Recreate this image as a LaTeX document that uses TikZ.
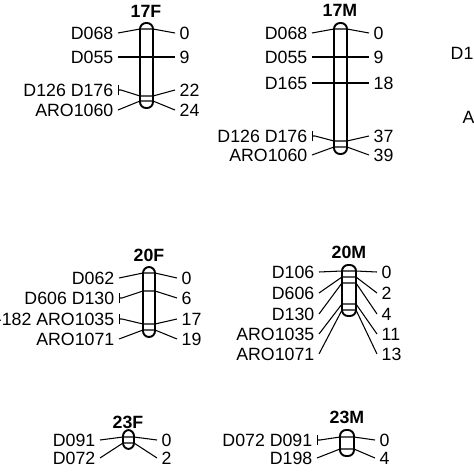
\documentclass[tikz,border=0pt]{standalone}
\usepackage{fontspec}
\setmainfont{Liberation Sans}
\usepackage{tikz}
\usetikzlibrary{arrows.meta}

\begin{document}
\begin{tikzpicture}[
    x=0.02cm, y=-0.02cm,
    font=\fontsize{10.1}{12}\selectfont,
    lbl/.style={anchor=east, inner sep=2.5pt},
    num/.style={anchor=west, inner sep=2.5pt},
    ttl/.style={font=\fontsize{10.1}{12}\selectfont\bfseries, inner sep=0pt},
    chrom/.style={draw, line width=1.1pt, rounded corners=0.12cm},
    link/.style={line width=0.6pt},
    multi/.style={link, {Bar[width=6pt]}-}
]
    \useasboundingbox (0,0) rectangle (474,474);

    % 17F
    \node[ttl] (t17F) at (146,11) {17F};
    \node[lbl] (l17F-1) at (118,33) {D068};
    \node[lbl] (l17F-2) at (118,57) {D055};
    \node[lbl] (l17F-3) at (118,90) {D126 D176};
    \node[lbl] (l17F-4) at (118,110) {ARO1060};
    \node[num] (r17F-1) at (175,33) {0};
    \node[num] (r17F-2) at (175,57) {9};
    \node[num] (r17F-3) at (175,90) {22};
    \node[num] (r17F-4) at (175,110) {24};
    \coordinate (a17F-1) at (140,29);  \coordinate (b17F-1) at (153,29);
    \coordinate (a17F-2) at (140,57);  \coordinate (b17F-2) at (153,57);
    \coordinate (a17F-3) at (140,96);  \coordinate (b17F-3) at (153,96);
    \coordinate (a17F-4) at (140,101); \coordinate (b17F-4) at (153,101);
    \draw[link]  (l17F-1.east) -- (a17F-1) -- (b17F-1) -- (r17F-1.west);
    \draw[link]  (l17F-2.east) -- (a17F-2) -- (b17F-2) -- (r17F-2.west);
    \draw[multi] (l17F-3.east) -- ++(3,0) -- (a17F-3) -- (b17F-3) -- (r17F-3.west);
    \draw[link]  (l17F-4.east) -- (a17F-4) -- (b17F-4) -- (r17F-4.west);
    \draw[chrom] (140,23) rectangle (153,108);

    % 17M
    \node[ttl] (t17M) at (340,10) {17M};
    \node[lbl] (l17M-1) at (312,33) {D068};
    \node[lbl] (l17M-2) at (312,57) {D055};
    \node[lbl] (l17M-3) at (312,83) {D165};
    \node[lbl] (l17M-4) at (312,136) {D126 D176};
    \node[lbl] (l17M-5) at (312,155) {ARO1060};
    \node[num] (r17M-1) at (369,33) {0};
    \node[num] (r17M-2) at (369,57) {9};
    \node[num] (r17M-3) at (369,83) {18};
    \node[num] (r17M-4) at (369,136) {37};
    \node[num] (r17M-5) at (369,155) {39};
    \coordinate (a17M-1) at (334,29);  \coordinate (b17M-1) at (347,29);
    \coordinate (a17M-2) at (334,57);  \coordinate (b17M-2) at (347,57);
    \coordinate (a17M-3) at (334,83);  \coordinate (b17M-3) at (347,83);
    \coordinate (a17M-4) at (334,141); \coordinate (b17M-4) at (347,141);
    \coordinate (a17M-5) at (334,147); \coordinate (b17M-5) at (347,147);
    \draw[link]  (l17M-1.east) -- (a17M-1) -- (b17M-1) -- (r17M-1.west);
    \draw[link]  (l17M-2.east) -- (a17M-2) -- (b17M-2) -- (r17M-2.west);
    \draw[link]  (l17M-3.east) -- (a17M-3) -- (b17M-3) -- (r17M-3.west);
    \draw[multi] (l17M-4.east) -- ++(3,0) -- (a17M-4) -- (b17M-4) -- (r17M-4.west);
    \draw[link]  (l17M-5.east) -- (a17M-5) -- (b17M-5) -- (r17M-5.west);
    \draw[chrom] (334,23) rectangle (347,154);

    % cut-off labels at the right edge
    \node[num] (edge-1) at (446,53) {D1};
    \node[num] (edge-2) at (458,117) {A};

    % 20F
    \node[ttl] (t20F) at (149,255) {20F};
    \node[lbl] (l20F-1) at (119,278) {D062};
    \node[lbl] (l20F-2) at (119,298) {D606 D130};
    \node[lbl] (l20F-3) at (119,319) {-182 ARO1035};
    \node[lbl] (l20F-4) at (119,339) {ARO1071};
    \node[num] (r20F-1) at (177,278) {0};
    \node[num] (r20F-2) at (177,298) {6};
    \node[num] (r20F-3) at (177,319) {17};
    \node[num] (r20F-4) at (177,339) {19};
    \coordinate (a20F-1) at (143,273); \coordinate (b20F-1) at (155,273);
    \coordinate (a20F-2) at (143,291); \coordinate (b20F-2) at (155,291);
    \coordinate (a20F-3) at (143,324); \coordinate (b20F-3) at (155,324);
    \coordinate (a20F-4) at (143,330); \coordinate (b20F-4) at (155,330);
    \draw[link]  (l20F-1.east) -- (a20F-1) -- (b20F-1) -- (r20F-1.west);
    \draw[multi] (l20F-2.east) -- ++(3,0) -- (a20F-2) -- (b20F-2) -- (r20F-2.west);
    \draw[multi] (l20F-3.east) -- ++(3,0) -- (a20F-3) -- (b20F-3) -- (r20F-3.west);
    \draw[link]  (l20F-4.east) -- (a20F-4) -- (b20F-4) -- (r20F-4.west);
    \draw[chrom] (143,267) rectangle (155,337);

    % 20M
    \node[ttl] (t20M) at (349,252) {20M};
    \node[lbl] (l20M-1) at (319,272) {D106};
    \node[lbl] (l20M-2) at (319,293) {D606};
    \node[lbl] (l20M-3) at (319,314) {D130};
    \node[lbl] (l20M-4) at (319,334) {ARO1035};
    \node[lbl] (l20M-5) at (319,354) {ARO1071};
    \node[num] (r20M-1) at (377,272) {0};
    \node[num] (r20M-2) at (377,293) {2};
    \node[num] (r20M-3) at (377,314) {4};
    \node[num] (r20M-4) at (377,334) {11};
    \node[num] (r20M-5) at (377,354) {13};
    \coordinate (a20M-1) at (342,271); \coordinate (b20M-1) at (356,271);
    \coordinate (a20M-2) at (342,277); \coordinate (b20M-2) at (356,277);
    \coordinate (a20M-3) at (342,283); \coordinate (b20M-3) at (356,283);
    \coordinate (a20M-4) at (342,304); \coordinate (b20M-4) at (356,304);
    \coordinate (a20M-5) at (342,310); \coordinate (b20M-5) at (356,310);
    \draw[link] (l20M-1.east) -- (a20M-1) -- (b20M-1) -- (r20M-1.west);
    \draw[link] (l20M-2.east) -- (a20M-2) -- (b20M-2) -- (r20M-2.west);
    \draw[link] (l20M-3.east) -- (a20M-3) -- (b20M-3) -- (r20M-3.west);
    \draw[link] (l20M-4.east) -- (a20M-4) -- (b20M-4) -- (r20M-4.west);
    \draw[link] (l20M-5.east) -- (a20M-5) -- (b20M-5) -- (r20M-5.west);
    \draw[chrom] (342,265) rectangle (356,316);

    % 23F
    \node[ttl] (t23F) at (128,422) {23F};
    \node[lbl] (l23F-1) at (100,440) {D091};
    \node[lbl] (l23F-2) at (100,458) {D072};
    \node[num] (r23F-1) at (157,440) {0};
    \node[num] (r23F-2) at (157,458) {2};
    \coordinate (a23F-1) at (123,437); \coordinate (b23F-1) at (134,437);
    \coordinate (a23F-2) at (123,443); \coordinate (b23F-2) at (134,443);
    \draw[link] (l23F-1.east) -- (a23F-1) -- (b23F-1) -- (r23F-1.west);
    \draw[link] (l23F-2.east) -- (a23F-2) -- (b23F-2) -- (r23F-2.west);
    \draw[chrom] (123,430) rectangle (134,449);

    % 23M
    \node[ttl] (t23M) at (347,417) {23M};
    \node[lbl] (l23M-1) at (317,440) {D072 D091};
    \node[lbl] (l23M-2) at (317,458) {D198};
    \node[num] (r23M-1) at (375,440) {0};
    \node[num] (r23M-2) at (375,458) {4};
    \coordinate (a23M-1) at (340,437); \coordinate (b23M-1) at (354,437);
    \coordinate (a23M-2) at (340,449); \coordinate (b23M-2) at (354,449);
    \draw[multi] (l23M-1.east) -- ++(3,0) -- (a23M-1) -- (b23M-1) -- (r23M-1.west);
    \draw[link]  (l23M-2.east) -- (a23M-2) -- (b23M-2) -- (r23M-2.west);
    \draw[chrom] (340,430) rectangle (354,456);
\end{tikzpicture}
\end{document}
